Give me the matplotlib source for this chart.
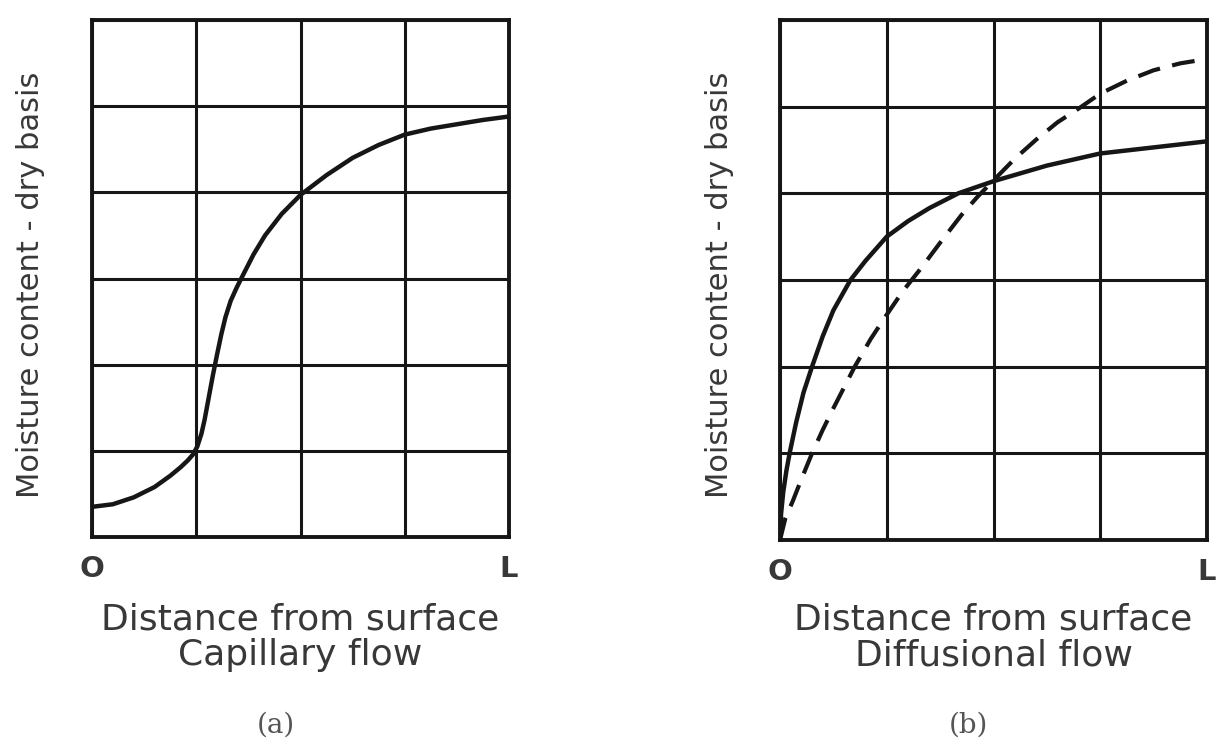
import matplotlib
matplotlib.use("Agg")
import matplotlib.pyplot as plt

# --- data (x: 0..4 grid columns, y: 0..6 grid rows) ---
cap_x = [0, 0.2, 0.4, 0.6, 0.75, 0.85, 0.92, 0.97, 1.01, 1.05, 1.08, 1.12, 1.16,
         1.2, 1.24, 1.28, 1.33, 1.39, 1.44, 1.55, 1.66, 1.82, 2.0, 2.25, 2.5,
         2.75, 3.0, 3.25, 3.5, 3.75, 4.0]
cap_y = [0.35, 0.38, 0.46, 0.58, 0.71, 0.81, 0.89, 0.96, 1.05, 1.2, 1.36, 1.62,
         1.88, 2.12, 2.35, 2.55, 2.74, 2.9, 3.02, 3.28, 3.5, 3.75, 3.97, 4.2,
         4.4, 4.55, 4.67, 4.74, 4.79, 4.84, 4.88]

diff_solid_x = [0, 0.01, 0.03, 0.06, 0.09, 0.15, 0.22, 0.3, 0.4, 0.5, 0.66, 0.8,
                1.0, 1.2, 1.4, 1.67, 2.0, 2.5, 3.0, 3.5, 4.0]
diff_solid_y = [0, 0.3, 0.55, 0.8, 1.0, 1.35, 1.7, 2.0, 2.35, 2.65, 3.0, 3.22,
                3.5, 3.68, 3.83, 4.0, 4.14, 4.32, 4.46, 4.53, 4.6]

diff_dash_x = [0, 0.05, 0.12, 0.2, 0.3, 0.4, 0.5, 0.6, 0.7, 0.85, 1.0, 1.15, 1.33,
               1.5, 1.7, 1.85, 2.0, 2.2, 2.4, 2.6, 2.8, 3.0, 3.25, 3.5, 3.75, 4.0]
diff_dash_y = [0, 0.25, 0.45, 0.7, 1.0, 1.27, 1.52, 1.76, 2.0, 2.32, 2.6, 2.87, 3.15,
               3.43, 3.75, 3.96, 4.15, 4.4, 4.62, 4.82, 4.98, 5.15, 5.3, 5.42, 5.5, 5.55]

tick_labels = ["O", "", "", "", "L"]
ylabel = "Moisture content - dry basis"
xlabel = "Distance from surface"
titles = ["Capillary flow", "Diffusional flow"]
tags = ["(a)", "(b)"]

W, H = 1231, 756
ink = "#161616"
txt = "#383838"

fig = plt.figure(figsize=(W / 100, H / 100), dpi=100)
fig.patch.set_facecolor("white")

# axes boxes in pixel terms: (left, top, right, bottom)
boxes = [(92, 20, 509, 537), (780, 20, 1207, 540)]
axes = []
for (l, t, r, b) in boxes:
    ax = fig.add_axes([l / W, 1 - b / H, (r - l) / W, (b - t) / H])
    ax.set_xlim(0, 4)
    ax.set_ylim(0, 6)
    ax.set_xticks(range(5))
    ax.set_xticklabels(tick_labels, fontsize=21, fontweight="bold", color=txt)
    ax.set_yticks(range(7))
    ax.set_yticklabels([])
    ax.tick_params(length=0, pad=13)
    ax.grid(True, color=ink, linewidth=2.2)
    for s in ax.spines.values():
        s.set_linewidth(2.8)
        s.set_color(ink)
    axes.append(ax)

axes[0].plot(cap_x, cap_y, color=ink, linewidth=3.2, solid_joinstyle="round")
axes[1].plot(diff_solid_x, diff_solid_y, color=ink, linewidth=3.2,
             solid_joinstyle="round")
axes[1].plot(diff_dash_x, diff_dash_y, color=ink, linewidth=3.0, dashes=(5.5, 3))

for i, (l, t, r, b) in enumerate(boxes):
    cx = (l + r) / 2 / W
    fig.text((31 + (l - 92)) / W, 1 - 285 / H, ylabel, rotation=90,
             ha="center", va="center", fontsize=22, color=txt)
    fig.text(cx, 1 - 630 / H, xlabel, ha="center", va="baseline",
             fontsize=26, color=txt)
    fig.text(cx, 1 - 665 / H, titles[i], ha="center", va="baseline",
             fontsize=26, color=txt)
    fig.text(cx - 25 / W, 1 - 725 / H, tags[i], ha="center", va="center",
             fontsize=20, color="#555555", family="DejaVu Serif")

fig.savefig("out.png", dpi=100, facecolor="white")
